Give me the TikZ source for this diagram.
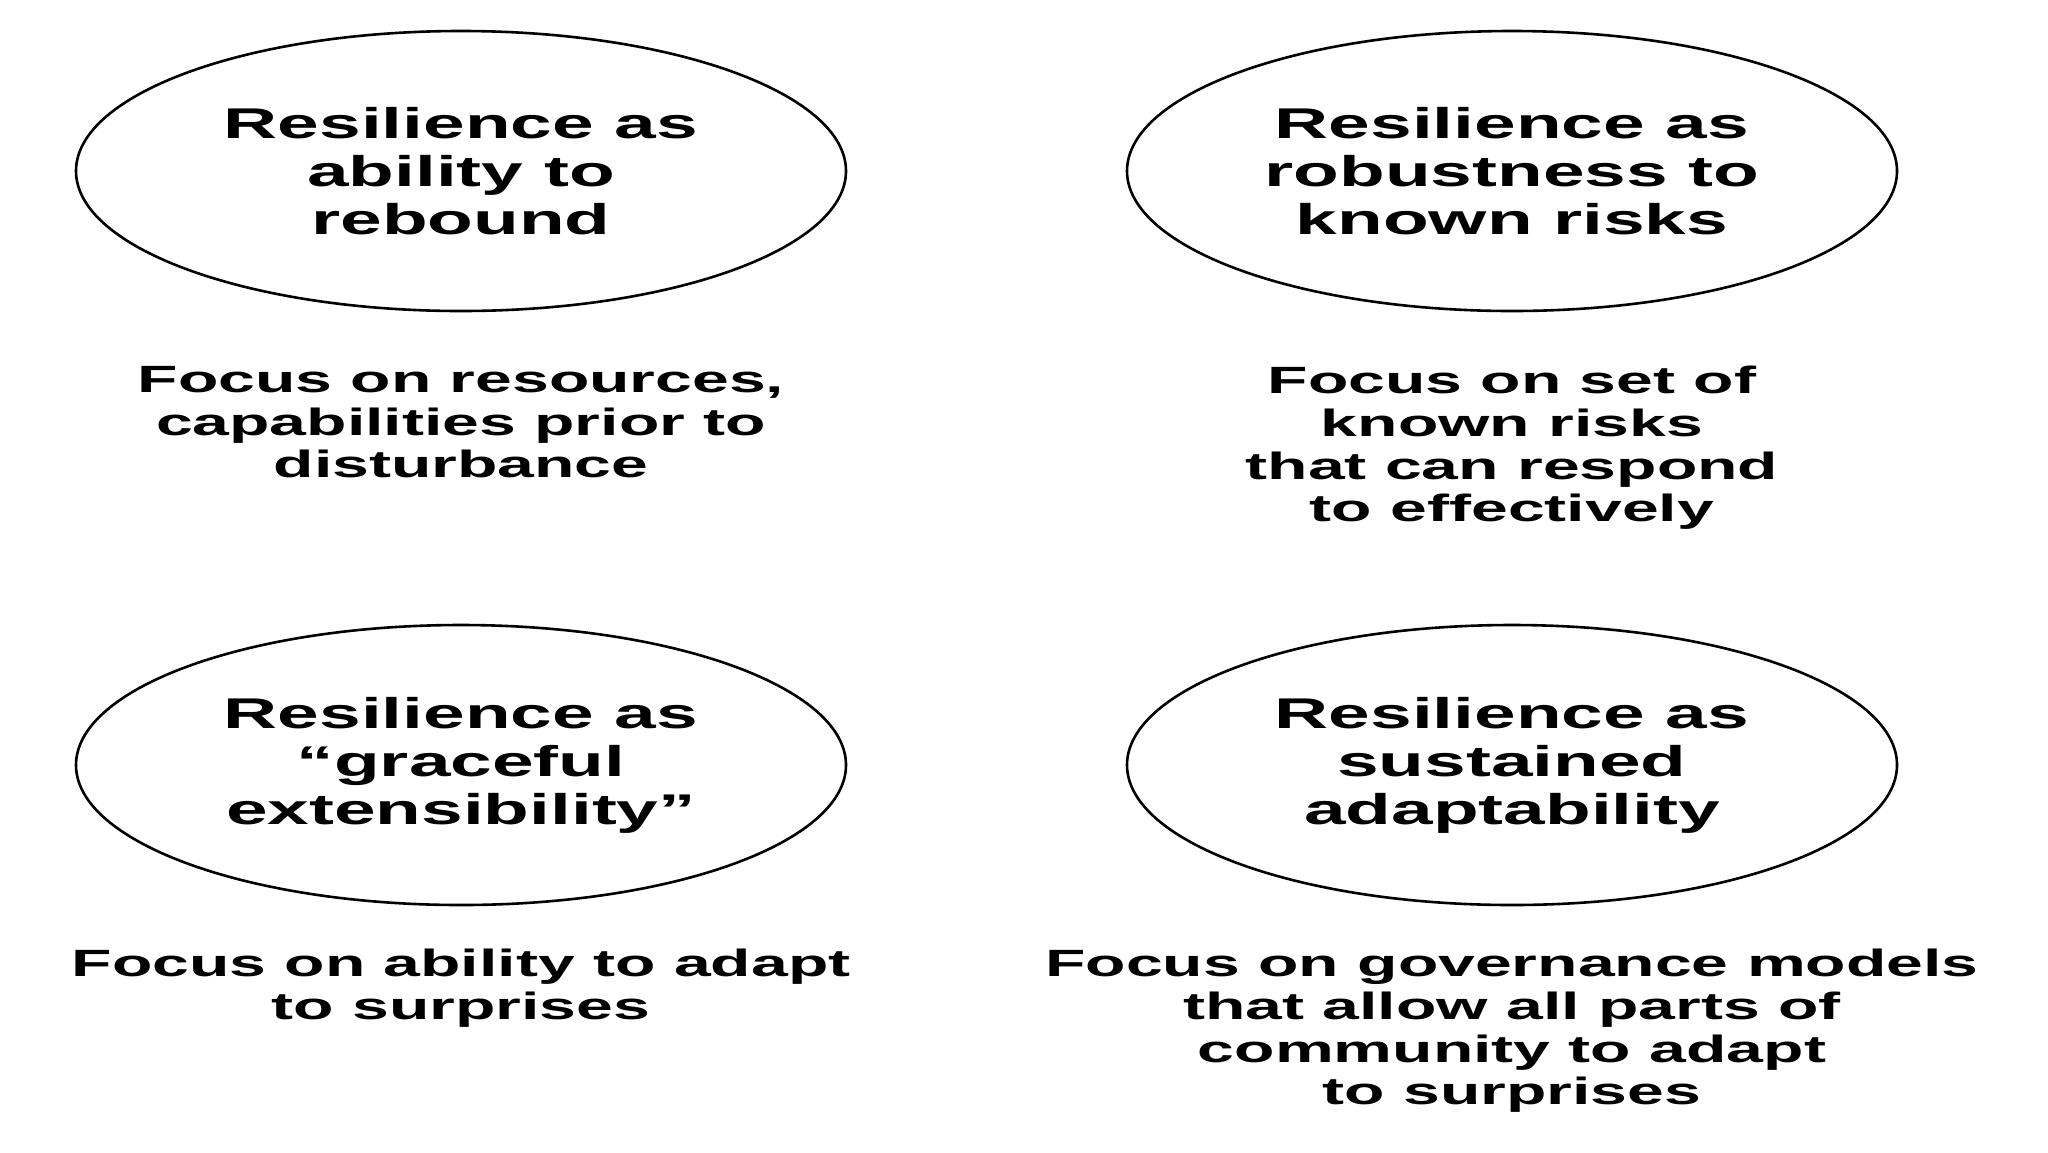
\documentclass[tikz,border=0pt]{standalone}
\usepackage{fontspec}
\newfontfamily\widefont{Liberation Sans}[FakeStretch=1.74]
\usetikzlibrary{shapes.geometric}
\begin{document}
\begin{tikzpicture}[x=0.5pt,y=-0.5pt,
  ell/.style={draw=black, line width=1.3pt, ellipse, minimum width=385pt, minimum height=140pt, inner sep=0pt,
    align=center, font=\widefont\bfseries\fontsize{21.5}{24}\selectfont},
  focus/.style={anchor=north, inner sep=0pt, align=center, font=\widefont\bfseries\fontsize{19}{21.3}\selectfont}]
\path[use as bounding box, fill=white] (0,0) rectangle (2048,1152);
\node[ell] (e1) at (461,171) {Resilience as\\ability to\\rebound};
\node[ell] (e2) at (1512,171) {Resilience as\\robustness to\\known risks};
\node[ell] (e3) at (461,765) {Resilience as\\“graceful\\extensibility”};
\node[ell] (e4) at (1512,765) {Resilience as\\sustained\\adaptability};
\node[focus] (f1) at (461,366) {Focus on resources,\\capabilities prior to\\disturbance};
\node[focus] (f2) at (1512,366) {Focus on set of\\known risks\\that can respond\\to effectively};
\node[focus] (f3) at (461,949) {Focus on ability to adapt\\to surprises};
\node[focus] (f4) at (1512,949) {Focus on governance models\\that allow all parts of\\community to adapt\\to surprises};
\end{tikzpicture}
\end{document}
